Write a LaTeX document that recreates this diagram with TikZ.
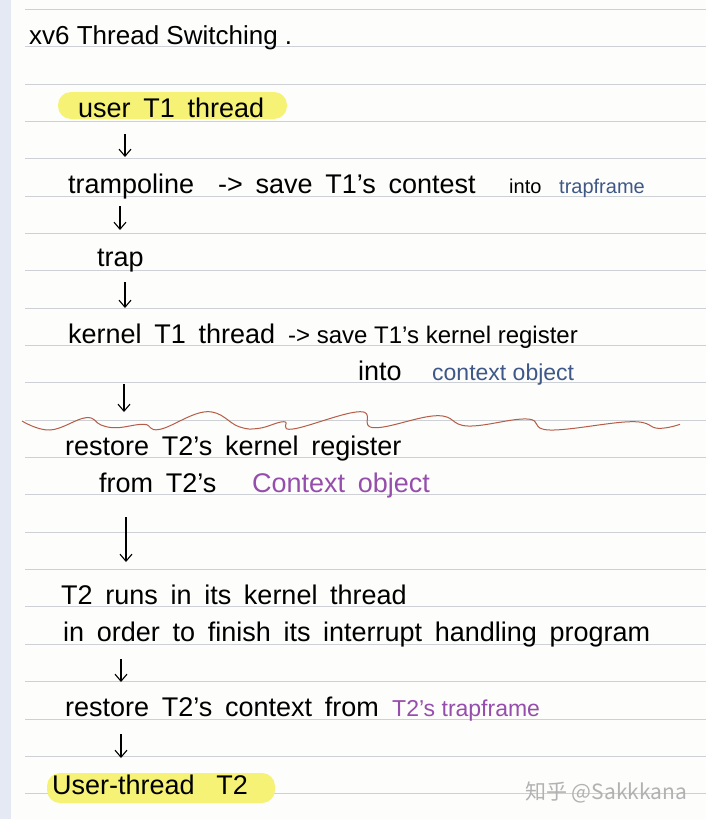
\documentclass[tikz,border=0pt]{standalone}
\usepackage{fontspec}
\setmainfont{Liberation Sans}
\newfontfamily\cjk{Noto Sans CJK SC}
\usetikzlibrary{arrows.meta}
\definecolor{paper}{RGB}{253,253,251}
\definecolor{margin}{RGB}{228,233,243}
\definecolor{rulegrey}{RGB}{205,208,212}
\definecolor{hiyellow}{RGB}{246,242,118}
\definecolor{slateink}{RGB}{62,88,135}
\definecolor{plum}{RGB}{150,78,172}
\definecolor{redpen}{RGB}{182,92,72}
\definecolor{wmgrey}{RGB}{178,178,178}
\newcommand{\hand}{\fontsize{27}{31}\selectfont\spaceskip=0.47em\relax}
\newcommand{\widehand}{\fontsize{27}{31}\selectfont\spaceskip=0.8em\relax}
\newcommand{\smallhand}{\fontsize{20}{24}\selectfont}
\newcommand{\midhand}{\fontsize{23}{27}\selectfont}
\tikzset{
  ink/.style={anchor=base west, inner sep=0pt, font=\hand},
  flow/.style={-{Straight Barb[length=7pt,width=12pt]}, line width=1.1pt},
  rule/.style={draw=rulegrey, line width=0.9pt},
  marker/.style={fill=hiyellow, rounded corners=13pt},
}
\begin{document}
\begin{tikzpicture}[x=1pt,y=-1pt]
  \fill[paper] (0,0) rectangle (706,819);
  \fill[margin] (0,0) rectangle (11,819);
  \useasboundingbox (0,0) rectangle (706,819);
  \foreach \k in {0,...,21}
    \draw[rule] (25,9.3+37.35*\k) -- (706,9.3+37.35*\k);

  \fill[marker] (58,92) rectangle (287,119);
  \fill[marker] (47,773) rectangle (275,803);

  \node[ink, font=\fontsize{26}{30}\selectfont] (title) at (29,44) {xv6 Thread Switching .};
  \node[ink] (user1) at (78,117) {user T1 thread};
  \node[ink] (tramp) at (68,193) {trampoline};
  \node[ink] (save1) at (218,193) {-> save T1's contest};
  \node[ink, font=\smallhand] (into1) at (509,193) {into};
  \node[ink, font=\smallhand, text=slateink] (tf1) at (559,193) {trapframe};
  \node[ink] (trap) at (97,266) {trap};
  \node[ink] (kern1) at (68,343) {kernel T1 thread};
  \node[ink, font=\fontsize{24}{28}\selectfont] (save2) at (288,343) {-> save T1's kernel register};
  \node[ink] (into2) at (358,380) {into};
  \node[ink, font=\midhand, text=slateink] (ctx1) at (432,380) {context object};
  \node[ink] (rest1) at (65,455) {restore T2's kernel register};
  \node[ink] (from1) at (99,492) {from T2's};
  \node[ink, text=plum] (ctx2) at (252,492) {Context object};
  \node[ink] (runs) at (61,604) {T2 runs in its kernel thread};
  \node[ink] (order) at (63,641) {in order to finish its interrupt handling program};
  \node[ink] (rest2) at (65,716) {restore T2's context from};
  \node[ink, font=\midhand, text=plum] (tf2) at (392,716) {T2's trapframe};
  \node[ink, font=\widehand] (user2) at (52,794) {User-thread T2};
  \node[ink, font=\cjk\fontsize{21}{24}\selectfont, text=wmgrey] (wm) at (525,799) {知乎 @Sakkkana};

  \foreach \x/\t/\b [count=\i] in {125/134/157, 120/206/230, 125/282/308,
      124/384/412, 126/517/562, 121/659/682, 121/734/758} {
    \coordinate (top\i) at (\x,\t);
    \coordinate (bot\i) at (\x,\b);
    \draw[flow] (top\i) -- (bot\i);
  }

  \draw[redpen, line width=1pt] plot[smooth, tension=0.7] coordinates {
    (22,421) (50,430) (86,417.7) (101,425) (117,427.7) (144,424.3) (160,429.3)
    (207,411.7) (239,426.7) (259,428.3) (284,421.7) (293,429) (360,411.7)
    (374,427.7) (437,415.7) (468,426) (527,419) (550,430) (631,421.7)
    (658,428.3) (680,424.3)};
\end{tikzpicture}
\end{document}
